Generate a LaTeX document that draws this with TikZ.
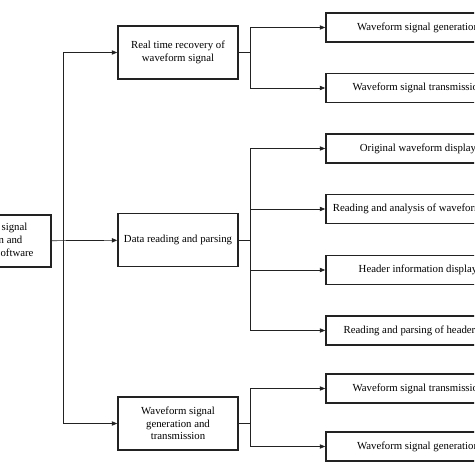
\documentclass[tikz,border=0pt]{standalone}
\usepackage{fontspec}
\setmainfont{Liberation Serif}
\usepackage{tikz}
\usetikzlibrary{positioning,arrows.meta}
\definecolor{ink}{HTML}{222222}
\tikzset{
  blk/.style={draw=ink,line width=1.4pt,align=center,font=\fontsize{9.2}{10.8}\selectfont,inner sep=2pt,fill=white},
  topblk/.style={blk,minimum width=3.63cm,minimum height=1.56cm},
  midblk/.style={blk,minimum width=3.6cm,minimum height=1.59cm},
  leafblk/.style={blk,minimum width=5.52cm,minimum height=0.87cm},
  a/.style={-{Triangle[length=1.6mm,width=1.3mm]},line width=0.6pt,draw=ink},
  ln/.style={line width=0.6pt,draw=ink},
}

\begin{document}
\begin{tikzpicture}[x=0.03cm,y=-0.03cm]

\useasboundingbox (0,0) rectangle (474,474);
\fill[white] (0,0) rectangle (474,474);
\clip (0,0) rectangle (474,474);

% ---- root and second level
\node[topblk] (src) at (-9.5,241) {Waveform signal\\generation and\\processing software};
\node[midblk] (rt) at (178,52.5) {Real time recovery of\\waveform signal};
\node[midblk] (dp) at (178,240) {Data reading and parsing};
\node[midblk] (gt) at (178,423.5) {Waveform signal\\generation and\\transmission};

\coordinate (trunk) at (63,241);
\draw[a] (src) -- (dp);
\draw[a] (trunk) |- (rt.west);
\draw[a] (trunk) |- (gt.west);

% ---- leaves: real time recovery
\node[leafblk] (r1) at (418,27.5) {Waveform signal generation};
\node[leafblk] (r2) at (418,88) {Waveform signal transmission};
\coordinate (rj) at (250,52.5);
\draw[ln] (rt.east) -- (rj);
\draw[a] (rj) |- (r1.west);
\draw[a] (rj) |- (r2.west);

% ---- leaves: data reading
\node[leafblk] (d1) at (418,148.5) {Original waveform display};
\node[leafblk] (d2) at (418,209) {Reading and analysis of waveform data};
\node[leafblk] (d3) at (418,270) {Header information display};
\node[leafblk] (d4) at (418,330.5) {Reading and parsing of header file};
\coordinate (dj) at (250,240);
\draw[ln] (dp.east) -- (dj);
\foreach \n in {d1,d2,d3,d4}
  \draw[a] (dj) |- (\n.west);

% ---- leaves: generation and transmission
\node[leafblk] (g1) at (418,388.5) {Waveform signal transmission};
\node[leafblk] (g2) at (418,446.5) {Waveform signal generation};
\coordinate (gj) at (250,423.5);
\draw[ln] (gt.east) -- (gj);
\draw[a] (gj) |- (g1.west);
\draw[a] (gj) |- (g2.west);

\end{tikzpicture}
\end{document}
